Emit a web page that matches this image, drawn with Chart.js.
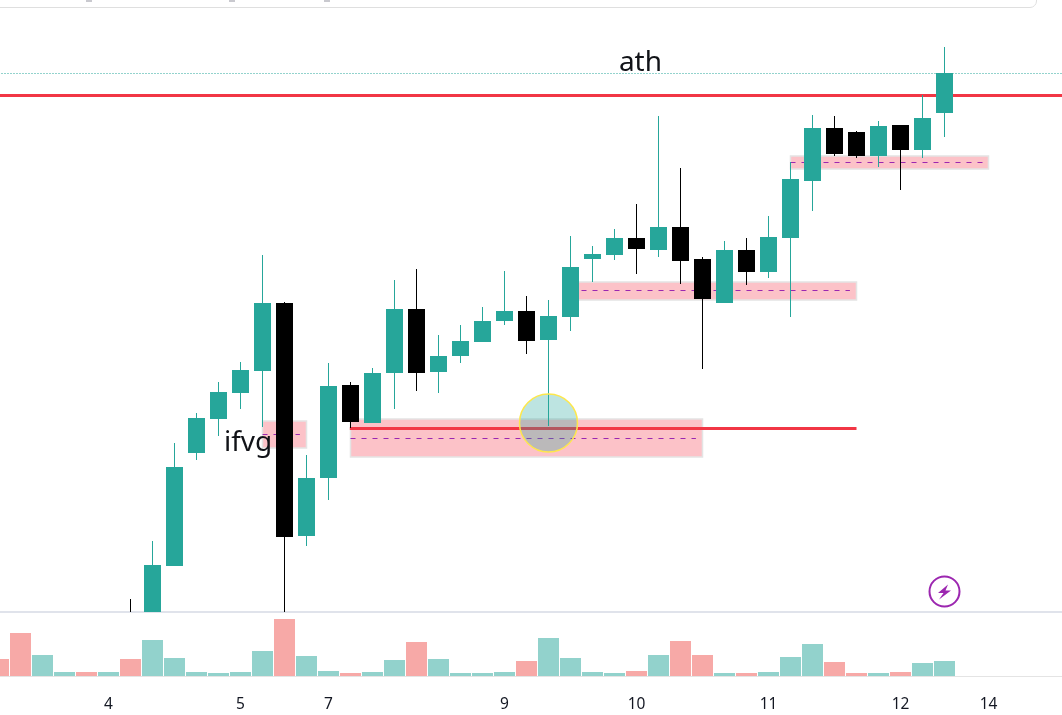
<!DOCTYPE html>
<html>
<head>
<meta charset="utf-8">
<title>ath / ifvg candlestick chart</title>
<script src="https://cdn.jsdelivr.net/npm/chart.js@4/dist/chart.umd.js"></script>
<style>
  html, body { margin: 0; padding: 0; background: #fff; overflow: hidden; }
  #wrap { position: relative; width: 1062px; height: 715px; overflow: hidden; }
  #plot { position: absolute; left: 0; top: 0; width: 1062px; height: 715px; }
  #bar { position: absolute; left: -20px; top: -30px; width: 1055px; height: 36px;
         border: 1px solid #dfdfdf; border-width: 1.5px; border-radius: 7px; }
  .nub { position: absolute; top: 0; width: 6px; height: 1.5px; background: #c9c9cf; }
</style>
</head>
<body>
<div id="wrap">
  <canvas id="plot" width="1062" height="715"></canvas>
  <div id="bar"></div>
  <div class="nub" style="left:86px"></div>
  <div class="nub" style="left:229px"></div>
  <div class="nub" style="left:324px"></div>
</div>
<script>
// Candle sessions, numbered along the time axis
const candleIndex = [5,6,7,8,9,10,11,12,13,14,15,16,17,18,19,20,21,22,23,24,25,26,27,28,29,30,31,32,33,34,35,36,37,38,39,40,41,42];
const opens  = [380,375,434,547,581,607,629,697,464,522,615,577,627,691,628,644,658,679,689,660,683,741,745,762,750,773,741,697,750,728,762,819,872,868,844,875,850,887];
const closes = [360,435,533,582,608,630,697,463,522,614,578,627,691,627,644,659,679,689,659,684,733,746,762,751,773,739,701,750,728,763,821,872,846,844,874,850,882,927];
const highs  = [401,459,557,587,618,638,745,698,545,637,618,632,720,731,665,675,693,729,704,700,764,754,771,796,884,832,743,759,762,784,838,885,884,869,879,875,905,953];
const lows   = [350,365,434,540,564,591,573,370,454,500,572,577,591,609,607,637,658,675,646,574,669,718,740,726,743,716,631,697,715,722,683,789,844,842,833,810,842,863];

// Volume per session, starting one session before the left edge
const volumeIndex = [-1,0,1,2,3,4,5,6,7,8,9,10,11,12,13,14,15,16,17,18,19,20,21,22,23,24,25,26,27,28,29,30,31,32,33,34,35,36,37,38,39,40,41,42];
const volumes  = [17,43,21,4,4,4,17,36,18,4,3,4,25,57,20,5,3,4,16,34,17,3,3,4,15,38,18,4,3,5,21,35,21,3,3,4,19,32,14,3,3,4,13,15];
const volumeUp = [0,0,1,1,0,1,0,1,1,1,1,1,1,0,1,1,0,1,1,0,1,1,1,1,0,1,1,1,1,0,1,0,0,1,0,1,1,1,0,0,1,0,1,1];

// Time axis
const tickIndex  = [4,10,14,22,28,34,40,44];
const tickLabels = ['4','5','7','9','10','11','12','14'];

// Drawn levels: [from session, to session, price]
const athLevel    = [-1, 48, 904.5];
const lastPrice   = [-1, 48, 926.5];
const sweepLevel  = [14.97, 38, 571.5];

// Imbalance zones: start, end, upper price, lower price
const zoneStart = [11, 15, 25, 35];
const zoneEnd   = [13, 31, 38, 44];
const zoneUpper = [579, 581, 718, 844];
const zoneLower = [552, 543, 700, 831];
const zoneMid   = [565.5, 561.5, 709.5, 837.5];
const zoneMidEnd = [12.7, 30.7, 37.7, 43.75];

// Notes and markers
const sweepMarker = { x: 24, y: 577 };
const noteTexts  = ['ath', 'ifvg'];
const noteIndex  = [27.2, 9.25];
const notePrice  = [929.5, 549];
const alertMark  = { x: 42, y: 408.5 };

const TEAL = '#26a69a', BLACK = '#000000', RED = '#f23645', PURPLE = '#9c27b0';
const up = i => closes[i] >= opens[i];
const candleColors = candleIndex.map((_, i) => up(i) ? TEAL : BLACK);
const xy = (x, y) => ({ x, y });
const levelLine = ([a, b, p], color, width, dash) => ({
  type: 'line', order: 5, data: [xy(a, p), xy(b, p)], xAxisID: 'x', yAxisID: 'yPrice',
  borderColor: color, borderWidth: width, borderDash: dash || [], pointRadius: 0, pointHoverRadius: 0
});

// Shaded zones and notes sit beneath the candles
const annotations = {
  id: 'annotations',
  beforeDatasetsDraw(chart) {
    const { ctx, scales: { x, yPrice, yVol } } = chart;
    ctx.save();
    zoneStart.forEach((s, i) => {
      const l = x.getPixelForValue(s), r = x.getPixelForValue(zoneEnd[i]);
      const t = yPrice.getPixelForValue(zoneUpper[i]), b = yPrice.getPixelForValue(zoneLower[i]);
      ctx.fillStyle = '#fcc2c8';
      ctx.fillRect(l, t, r - l, b - t);
      ctx.strokeStyle = '#e4e4e4';
      ctx.lineWidth = 1.5;
      ctx.strokeRect(l, t, r - l, b - t);
    });
    ctx.fillStyle = '#111318';
    ctx.font = '28px "Noto Sans"';
    ctx.textBaseline = 'alphabetic';
    noteTexts.forEach((t, i) => {
      ctx.fillText(t, x.getPixelForValue(noteIndex[i]), yPrice.getPixelForValue(notePrice[i]));
    });
    // Pane divider and volume baseline
    ctx.fillStyle = '#e0e3eb';
    ctx.fillRect(0, yPrice.bottom - 1, chart.width, 2);
    ctx.fillStyle = '#e4e4e4';
    ctx.fillRect(0, yVol.bottom - 1, chart.width, 1);
    ctx.restore();
  },
  afterDatasetsDraw(chart) {
    const { ctx, scales: { x, yPrice } } = chart;
    const cx = x.getPixelForValue(alertMark.x), cy = yPrice.getPixelForValue(alertMark.y);
    ctx.save();
    ctx.strokeStyle = PURPLE;
    ctx.lineWidth = 2;
    ctx.beginPath();
    ctx.arc(cx, cy, 15, 0, Math.PI * 2);
    ctx.stroke();
    ctx.fillStyle = PURPLE;
    ctx.beginPath();
    [[3.5, -7], [-6.5, 1.5], [-1, 1.5], [-5.5, 8], [6.5, -1], [1, -1]].forEach(([dx, dy], i) => {
      if (i) ctx.lineTo(cx + dx, cy + dy); else ctx.moveTo(cx + dx, cy + dy);
    });
    ctx.closePath();
    ctx.fill();
    ctx.restore();
  }
};

new Chart(document.getElementById('plot'), {
  data: {
    datasets: [
      // sweep circle, above everything
      { type: 'scatter', order: 0, xAxisID: 'x', yAxisID: 'yPrice', data: [sweepMarker],
        pointRadius: 29, pointHoverRadius: 29, pointBackgroundColor: 'rgba(38,166,154,0.3)',
        pointBorderColor: '#fde74c', pointBorderWidth: 1.5, clip: false },
      // candle bodies
      { type: 'bar', order: 1, xAxisID: 'x', yAxisID: 'yPrice', grouped: false, barThickness: 17,
        inflateAmount: 0, borderWidth: 0, backgroundColor: candleColors,
        data: candleIndex.map((s, i) => xy(s, [opens[i], closes[i]])) },
      // candle wicks
      { type: 'bar', order: 2, xAxisID: 'x', yAxisID: 'yPrice', grouped: false, barThickness: 1,
        inflateAmount: 0, borderWidth: 0, backgroundColor: candleColors,
        data: candleIndex.map((s, i) => xy(s, [lows[i], highs[i]])) },
      // volume
      { type: 'bar', order: 3, xAxisID: 'x', yAxisID: 'yVol', grouped: false, barThickness: 21,
        inflateAmount: 0, borderWidth: 0,
        backgroundColor: volumeUp.map(u => u ? 'rgba(38,166,154,0.5)' : 'rgba(239,83,80,0.5)'),
        data: volumeIndex.map((s, i) => xy(s, volumes[i])) },
      levelLine(athLevel, RED, 3),
      levelLine(lastPrice, TEAL, 1, [1, 2]),
      levelLine(sweepLevel, RED, 3),
      ...zoneStart.map((s, i) => levelLine([s, zoneMidEnd[i], zoneMid[i]], PURPLE, 1, [5, 6]))
    ]
  },
  options: {
    responsive: false,
    animation: false,
    events: [],
    devicePixelRatio: 1,
    layout: { padding: 0, autoPadding: false },
    plugins: { legend: { display: false }, tooltip: { enabled: false } },
    scales: {
      x: {
        type: 'linear',
        min: -20.5 / 22,
        max: (1062 - 20.5) / 22,
        offset: false,
        grid: { display: false },
        border: { display: false },
        afterBuildTicks(s) { s.ticks = tickIndex.map(value => ({ value })); },
        afterFit(s) { s.height = 38; },
        ticks: {
          autoSkip: false, maxRotation: 0, padding: 10.5, color: '#131722',
          font: { family: '"Noto Sans"', size: 15.5 },
          callback: v => tickLabels[tickIndex.indexOf(v)]
        }
      },
      yPrice: { type: 'linear', position: 'left', display: false, stack: 'panes', stackWeight: 612, weight: 1, min: 388, max: 1000 },
      yVol:   { type: 'linear', position: 'left', display: false, stack: 'panes', stackWeight: 65, weight: 0, min: -1, max: 64 }
    }
  },
  plugins: [annotations]
});
</script>
</body>
</html>
